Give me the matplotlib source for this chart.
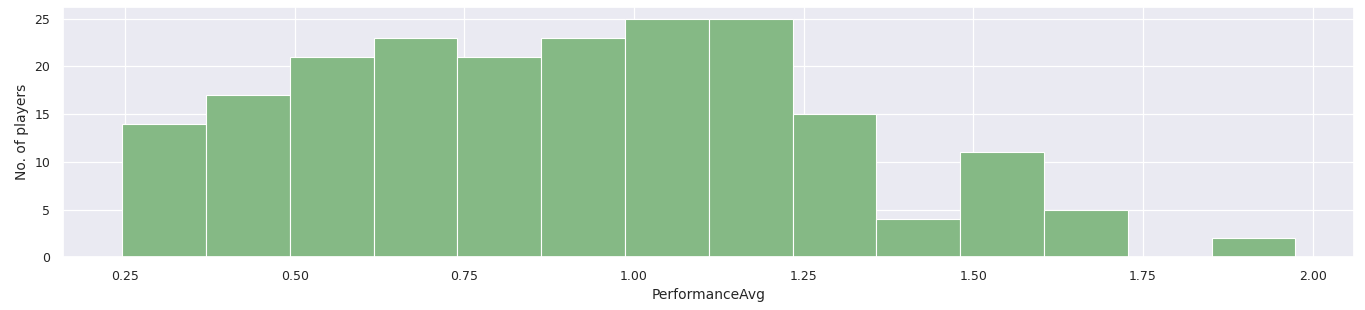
import matplotlib
matplotlib.use("Agg")
import matplotlib.pyplot as plt
import seaborn as sns

# Histogram of PerformanceAvg (counts)
bin_start = 0.2456
bin_width = 0.1235
counts = [14, 17, 21, 23, 21, 23, 25, 25, 15, 4, 11, 5, 0, 2]

edges = [bin_start + i * bin_width for i in range(len(counts) + 1)]
centers = [(edges[i] + edges[i + 1]) / 2 for i in range(len(counts))]

sns.set_theme(style="darkgrid")

fig, ax = plt.subplots(figsize=(13.65, 3.10), dpi=100)
ax.hist(centers, bins=edges, weights=counts, color="#85B985",
        edgecolor="white", linewidth=0.8)
ax.grid(True, linewidth=0.9)

ax.set_xlabel("PerformanceAvg", fontsize=10, labelpad=3)
ax.set_ylabel("No. of players", fontsize=10)
ax.tick_params(labelsize=9)

fig.subplots_adjust(left=0.0465, right=0.992, top=0.978, bottom=0.17)
fig.savefig("out.png", dpi=100)
